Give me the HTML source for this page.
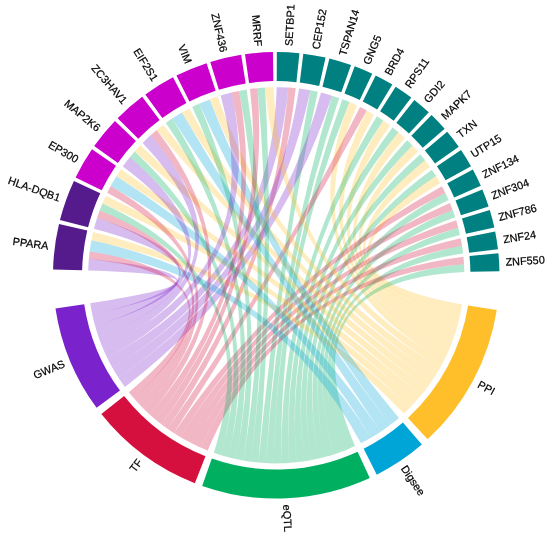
<!DOCTYPE html>
<html lang="en"><head><meta charset="utf-8"><title>Chord diagram</title>
<style>html,body{margin:0;padding:0;background:#fff;overflow:hidden}svg{display:block}.lab text{font-family:"Liberation Sans",Arial,Helvetica,sans-serif;font-size:10.9px;fill:#000;stroke:#000;stroke-width:0.2px}.links path{fill-opacity:0.3}</style></head><body>
<svg width="550" height="539" viewBox="0 0 550 539">
<rect width="550" height="539" fill="#fff"/>
<g class="links">
<path d="M288.18,87.58 Q271.69,272.44 112.45,367.78 A188.1,188.1 0 0 1 107.14,357.65 Q271.19,272.13 276.74,87.2 A188.1,188.1 0 0 1 288.18,87.58 Z" fill="#7A22CC"/>
<path d="M295.78,88.22 Q273.57,274.29 167.51,428.78 A188.1,188.1 0 0 1 161.38,424.25 Q273.16,274.14 288.18,87.58 A188.1,188.1 0 0 1 295.78,88.22 Z" fill="#D5103F"/>
<path d="M310.35,90.32 Q272.54,272.82 118.38,377.57 A188.1,188.1 0 0 1 112.45,367.78 Q272.02,272.47 299.04,88.59 A188.1,188.1 0 0 1 310.35,90.32 Z" fill="#7A22CC"/>
<path d="M317.82,91.85 Q277.19,275.43 266.03,463.12 A188.1,188.1 0 0 1 258.42,462.55 Q276.74,275.37 310.35,90.32 A188.1,188.1 0 0 1 317.82,91.85 Z" fill="#00B060"/>
<path d="M332.03,95.66 Q273.38,273.26 124.89,386.97 A188.1,188.1 0 0 1 118.38,377.57 Q272.86,272.89 321.01,92.6 A188.1,188.1 0 0 1 332.03,95.66 Z" fill="#7A22CC"/>
<path d="M339.27,98.07 Q278.06,275.63 273.65,463.38 A188.1,188.1 0 0 1 266.03,463.12 Q277.62,275.55 332.03,95.66 A188.1,188.1 0 0 1 339.27,98.07 Z" fill="#00B060"/>
<path d="M349.44,102.02 Q278.6,275.74 281.28,463.33 A188.1,188.1 0 0 1 273.65,463.38 Q278.16,275.66 342.35,99.2 A188.1,188.1 0 0 1 349.44,102.02 Z" fill="#00B060"/>
<path d="M357.09,105.46 Q283.82,272.53 447.69,352.69 A188.1,188.1 0 0 1 444.07,360.26 Q283.48,272.65 349.44,102.02 A188.1,188.1 0 0 1 357.09,105.46 Z" fill="#FEBF2A"/>
<path d="M366.8,110.43 Q275.89,275.09 173.82,433.06 A188.1,188.1 0 0 1 167.51,428.78 Q275.5,274.85 360.04,106.9 A188.1,188.1 0 0 1 366.8,110.43 Z" fill="#D5103F"/>
<path d="M374.06,114.63 Q284.43,272.57 450.97,344.97 A188.1,188.1 0 0 1 447.69,352.69 Q284.11,272.68 366.8,110.43 A188.1,188.1 0 0 1 374.06,114.63 Z" fill="#FEBF2A"/>
<path d="M383.21,120.57 Q279.84,276.29 288.9,462.97 A188.1,188.1 0 0 1 281.28,463.33 Q279.42,276.17 376.85,116.36 A188.1,188.1 0 0 1 383.21,120.57 Z" fill="#00B060"/>
<path d="M390.01,125.5 Q284.99,272.66 453.91,337.11 A188.1,188.1 0 0 1 450.97,344.97 Q284.7,272.75 383.21,120.57 A188.1,188.1 0 0 1 390.01,125.5 Z" fill="#FEBF2A"/>
<path d="M398.5,132.34 Q280.52,276.62 296.49,462.31 A188.1,188.1 0 0 1 288.9,462.97 Q280.12,276.5 392.6,127.5 A188.1,188.1 0 0 1 398.5,132.34 Z" fill="#00B060"/>
<path d="M404.75,137.94 Q285.51,272.79 456.48,329.12 A188.1,188.1 0 0 1 453.91,337.11 Q285.25,272.87 398.5,132.34 A188.1,188.1 0 0 1 404.75,137.94 Z" fill="#FEBF2A"/>
<path d="M412.5,145.62 Q281.17,276.99 304.06,461.33 A188.1,188.1 0 0 1 296.49,462.31 Q280.78,276.86 407.13,140.2 A188.1,188.1 0 0 1 412.5,145.62 Z" fill="#00B060"/>
<path d="M418.15,151.82 Q285.98,272.97 458.71,321.03 A188.1,188.1 0 0 1 456.48,329.12 Q285.74,273.02 412.5,145.62 A188.1,188.1 0 0 1 418.15,151.82 Z" fill="#FEBF2A"/>
<path d="M425.06,160.25 Q281.77,277.39 311.58,460.05 A188.1,188.1 0 0 1 304.06,461.33 Q281.41,277.25 420.28,154.32 A188.1,188.1 0 0 1 425.06,160.25 Z" fill="#00B060"/>
<path d="M430.05,167 Q286.39,273.18 460.56,312.85 A188.1,188.1 0 0 1 458.71,321.03 Q286.19,273.22 425.06,160.25 A188.1,188.1 0 0 1 430.05,167 Z" fill="#FEBF2A"/>
<path d="M436.07,176.1 Q282.33,277.82 319.04,458.47 A188.1,188.1 0 0 1 311.58,460.05 Q281.98,277.67 431.91,169.7 A188.1,188.1 0 0 1 436.07,176.1 Z" fill="#00B060"/>
<path d="M440.33,183.33 Q286.75,273.42 462.05,304.6 A188.1,188.1 0 0 1 460.56,312.85 Q286.57,273.45 436.07,176.1 A188.1,188.1 0 0 1 440.33,183.33 Z" fill="#FEBF2A"/>
<path d="M445.39,192.99 Q278.45,277.68 180.3,437.09 A188.1,188.1 0 0 1 173.82,433.06 Q278.15,277.36 441.91,186.2 A188.1,188.1 0 0 1 445.39,192.99 Z" fill="#D5103F"/>
<path d="M448.58,199.92 Q282.93,278.48 326.43,456.58 A188.1,188.1 0 0 1 319.04,458.47 Q282.61,278.33 445.39,192.99 A188.1,188.1 0 0 1 448.58,199.92 Z" fill="#00B060"/>
<path d="M452.66,210.03 Q278.86,278.31 186.94,440.84 A188.1,188.1 0 0 1 180.3,437.09 Q278.58,277.98 449.87,202.94 A188.1,188.1 0 0 1 452.66,210.03 Z" fill="#D5103F"/>
<path d="M455.16,217.24 Q283.34,278.93 333.74,454.4 A188.1,188.1 0 0 1 326.43,456.58 Q283.05,278.78 452.66,210.03 A188.1,188.1 0 0 1 455.16,217.24 Z" fill="#00B060"/>
<path d="M458.23,227.71 Q279.23,278.94 193.72,444.33 A188.1,188.1 0 0 1 186.94,440.84 Q278.97,278.62 456.15,220.37 A188.1,188.1 0 0 1 458.23,227.71 Z" fill="#D5103F"/>
<path d="M460.01,235.12 Q283.7,279.39 340.95,451.92 A188.1,188.1 0 0 1 333.74,454.4 Q283.43,279.25 458.23,227.71 A188.1,188.1 0 0 1 460.01,235.12 Z" fill="#00B060"/>
<path d="M462.03,245.84 Q279.56,279.58 200.64,447.53 A188.1,188.1 0 0 1 193.72,444.33 Q279.31,279.26 460.68,238.34 A188.1,188.1 0 0 1 462.03,245.84 Z" fill="#D5103F"/>
<path d="M463.07,253.4 Q284.01,279.86 348.06,449.15 A188.1,188.1 0 0 1 340.95,451.92 Q283.76,279.72 462.03,245.84 A188.1,188.1 0 0 1 463.07,253.4 Z" fill="#00B060"/>
<path d="M464.03,264.27 Q279.83,280.22 207.68,450.46 A188.1,188.1 0 0 1 200.64,447.53 Q279.6,279.91 463.42,256.66 A188.1,188.1 0 0 1 464.03,264.27 Z" fill="#D5103F"/>
<path d="M464.32,271.89 Q284.26,280.32 355.04,446.1 A188.1,188.1 0 0 1 348.06,449.15 Q284.04,280.18 464.03,264.27 A188.1,188.1 0 0 1 464.32,271.89 Z" fill="#00B060"/>
<path d="M88.85,259.08 Q265.11,275.99 92.28,314.49 A188.1,188.1 0 0 1 90.24,303.23 Q265.03,275.99 88.21,270.51 A188.1,188.1 0 0 1 88.85,259.08 Z" fill="#7A22CC"/>
<path d="M89.66,251.5 Q266.38,278.27 133.74,398.07 A188.1,188.1 0 0 1 128.88,392.19 Q266.21,278.32 88.85,259.08 A188.1,188.1 0 0 1 89.66,251.5 Z" fill="#D5103F"/>
<path d="M91.45,240.2 Q273.55,279.12 371.01,437.79 A188.1,188.1 0 0 1 360.96,443.25 Q273.19,279.62 89.66,251.5 A188.1,188.1 0 0 1 91.45,240.2 Z" fill="#00A5D8"/>
<path d="M93.2,232 Q274.77,277.97 409.86,407.7 A188.1,188.1 0 0 1 403.82,413.53 Q274.53,278.39 91.45,240.2 A188.1,188.1 0 0 1 93.2,232 Z" fill="#FEBF2A"/>
<path d="M97.15,217.82 Q265.44,275.08 95,325.6 A188.1,188.1 0 0 1 92.28,314.49 Q265.26,275.08 93.99,228.81 A188.1,188.1 0 0 1 97.15,217.82 Z" fill="#7A22CC"/>
<path d="M99.63,210.6 Q266.83,277.21 138.83,403.74 A188.1,188.1 0 0 1 133.74,398.07 Q266.6,277.26 97.15,217.82 A188.1,188.1 0 0 1 99.63,210.6 Z" fill="#D5103F"/>
<path d="M102.39,203.5 Q269.38,278.54 221.08,455.13 A188.1,188.1 0 0 1 213.84,452.74 Q269.08,278.68 99.63,210.6 A188.1,188.1 0 0 1 102.39,203.5 Z" fill="#00B060"/>
<path d="M105.77,195.82 Q275.32,276.7 415.63,401.61 A188.1,188.1 0 0 1 409.86,407.7 Q275.04,277.12 102.39,203.5 A188.1,188.1 0 0 1 105.77,195.82 Z" fill="#FEBF2A"/>
<path d="M110.66,186.07 Q267.32,276.64 144.15,409.21 A188.1,188.1 0 0 1 138.83,403.74 Q267.06,276.68 107.18,192.85 A188.1,188.1 0 0 1 110.66,186.07 Z" fill="#D5103F"/>
<path d="M116.39,176.17 Q274.59,277.02 380.71,431.73 A188.1,188.1 0 0 1 371.01,437.79 Q274.13,277.5 110.66,186.07 A188.1,188.1 0 0 1 116.39,176.17 Z" fill="#00A5D8"/>
<path d="M120.97,169.14 Q275.94,275.71 421.12,395.27 A188.1,188.1 0 0 1 415.63,401.61 Q275.64,276.12 116.39,176.17 A188.1,188.1 0 0 1 120.97,169.14 Z" fill="#FEBF2A"/>
<path d="M129.75,157.32 Q266.52,273.6 98.39,336.52 A188.1,188.1 0 0 1 95,325.6 Q266.21,273.54 122.85,166.44 A188.1,188.1 0 0 1 129.75,157.32 Z" fill="#7A22CC"/>
<path d="M134.65,151.48 Q270.57,277.04 228.42,457.22 A188.1,188.1 0 0 1 221.08,455.13 Q270.2,277.16 129.75,157.32 A188.1,188.1 0 0 1 134.65,151.48 Z" fill="#00B060"/>
<path d="M140.32,145.29 Q276.67,274.8 426.33,388.69 A188.1,188.1 0 0 1 421.12,395.27 Q276.35,275.18 134.65,151.48 A188.1,188.1 0 0 1 140.32,145.29 Z" fill="#FEBF2A"/>
<path d="M150.9,135.06 Q267.28,273.25 102.44,347.22 A188.1,188.1 0 0 1 98.39,336.52 Q266.9,273.17 142.61,142.93 A188.1,188.1 0 0 1 150.9,135.06 Z" fill="#7A22CC"/>
<path d="M156.69,130.09 Q268.87,275.12 149.69,414.45 A188.1,188.1 0 0 1 144.15,409.21 Q268.53,275.11 150.9,135.06 A188.1,188.1 0 0 1 156.69,130.09 Z" fill="#D5103F"/>
<path d="M163.28,124.9 Q277.51,273.99 431.24,381.89 A188.1,188.1 0 0 1 426.33,388.69 Q277.17,274.35 156.69,130.09 A188.1,188.1 0 0 1 163.28,124.9 Z" fill="#FEBF2A"/>
<path d="M172.19,118.61 Q271.92,276.11 235.83,459.01 A188.1,188.1 0 0 1 228.42,457.22 Q271.51,276.19 165.92,122.95 A188.1,188.1 0 0 1 172.19,118.61 Z" fill="#00B060"/>
<path d="M181.91,112.57 Q276.83,274.91 390.03,425.09 A188.1,188.1 0 0 1 380.71,431.73 Q276.26,275.29 172.19,118.61 A188.1,188.1 0 0 1 181.91,112.57 Z" fill="#00A5D8"/>
<path d="M189.26,108.53 Q278.43,273.28 435.84,374.87 A188.1,188.1 0 0 1 431.24,381.89 Q278.07,273.62 181.91,112.57 A188.1,188.1 0 0 1 189.26,108.53 Z" fill="#FEBF2A"/>
<path d="M199.07,103.76 Q272.95,275.71 243.31,460.49 A188.1,188.1 0 0 1 235.83,459.01 Q272.52,275.76 192.18,107.03 A188.1,188.1 0 0 1 199.07,103.76 Z" fill="#00B060"/>
<path d="M209.64,99.39 Q277.93,274.3 398.92,417.89 A188.1,188.1 0 0 1 390.03,425.09 Q277.35,274.65 199.07,103.76 A188.1,188.1 0 0 1 209.64,99.39 Z" fill="#00A5D8"/>
<path d="M217.55,96.59 Q279.4,272.71 440.12,367.66 A188.1,188.1 0 0 1 435.84,374.87 Q279.04,273.01 209.64,99.39 A188.1,188.1 0 0 1 217.55,96.59 Z" fill="#FEBF2A"/>
<path d="M231.7,92.55 Q269.84,272.29 107.14,357.65 A188.1,188.1 0 0 1 102.44,347.22 Q269.37,272.07 220.68,95.6 A188.1,188.1 0 0 1 231.7,92.55 Z" fill="#7A22CC"/>
<path d="M239.15,90.9 Q271.51,274.09 155.43,419.47 A188.1,188.1 0 0 1 149.69,414.45 Q271.12,273.99 231.7,92.55 A188.1,188.1 0 0 1 239.15,90.9 Z" fill="#D5103F"/>
<path d="M246.66,89.54 Q274.6,275.32 250.85,461.68 A188.1,188.1 0 0 1 243.31,460.49 Q274.15,275.32 239.15,90.9 A188.1,188.1 0 0 1 246.66,89.54 Z" fill="#00B060"/>
<path d="M257.47,88.14 Q272.24,274.15 161.38,424.25 A188.1,188.1 0 0 1 155.43,419.47 Q271.83,274.04 249.9,89.05 A188.1,188.1 0 0 1 257.47,88.14 Z" fill="#D5103F"/>
<path d="M265.08,87.53 Q275.38,275.28 258.42,462.55 A188.1,188.1 0 0 1 250.85,461.68 Q274.92,275.28 257.47,88.14 A188.1,188.1 0 0 1 265.08,87.53 Z" fill="#00B060"/>
<path d="M273.46,87.22 Q281.2,272.21 444.07,360.26 A188.1,188.1 0 0 1 440.12,367.66 Q280.83,272.44 265.08,87.53 A188.1,188.1 0 0 1 273.46,87.22 Z" fill="#FEBF2A"/>
</g>
<g class="grid">
<path d="M276.83,52.05 A223.25,223.25 0 0 1 299.42,53.26 L296.41,82.15 A194.2,194.2 0 0 0 276.76,81.1 Z" fill="#008080"/>
<path d="M303.3,53.69 A223.25,223.25 0 0 1 325.58,57.57 L319.16,85.9 A194.2,194.2 0 0 0 299.78,82.53 Z" fill="#008080"/>
<path d="M329.38,58.46 A223.25,223.25 0 0 1 351.05,64.95 L341.31,92.32 A194.2,194.2 0 0 0 322.46,86.68 Z" fill="#008080"/>
<path d="M354.71,66.29 A223.25,223.25 0 0 1 372.2,73.72 L359.71,99.95 A194.2,194.2 0 0 0 344.5,93.49 Z" fill="#008080"/>
<path d="M375.7,75.43 A223.25,223.25 0 0 1 392.34,84.61 L377.24,109.42 A194.2,194.2 0 0 0 362.76,101.43 Z" fill="#008080"/>
<path d="M395.65,86.66 A223.25,223.25 0 0 1 411.26,97.5 L393.69,120.64 A194.2,194.2 0 0 0 380.11,111.21 Z" fill="#008080"/>
<path d="M414.35,99.89 A223.25,223.25 0 0 1 428.76,112.27 L408.92,133.48 A194.2,194.2 0 0 0 396.38,122.71 Z" fill="#008080"/>
<path d="M431.59,114.95 A223.25,223.25 0 0 1 444.66,128.75 L422.75,147.82 A194.2,194.2 0 0 0 411.37,135.82 Z" fill="#008080"/>
<path d="M447.19,131.71 A223.25,223.25 0 0 1 458.79,146.77 L435.03,163.49 A194.2,194.2 0 0 0 424.95,150.39 Z" fill="#008080"/>
<path d="M461,149.97 A223.25,223.25 0 0 1 470.99,166.14 L445.65,180.34 A194.2,194.2 0 0 0 436.96,166.28 Z" fill="#008080"/>
<path d="M472.87,169.55 A223.25,223.25 0 0 1 480.79,185.83 L454.17,197.47 A194.2,194.2 0 0 0 447.28,183.31 Z" fill="#008080"/>
<path d="M482.32,189.41 A223.25,223.25 0 0 1 488.6,206.39 L460.97,215.36 A194.2,194.2 0 0 0 455.5,200.59 Z" fill="#008080"/>
<path d="M489.77,210.11 A223.25,223.25 0 0 1 494.35,227.62 L465.97,233.82 A194.2,194.2 0 0 0 461.98,218.59 Z" fill="#008080"/>
<path d="M495.15,231.43 A223.25,223.25 0 0 1 497.98,249.31 L469.13,252.69 A194.2,194.2 0 0 0 466.66,237.14 Z" fill="#008080"/>
<path d="M498.4,253.18 A223.25,223.25 0 0 1 499.46,271.25 L470.42,271.78 A194.2,194.2 0 0 0 469.49,256.06 Z" fill="#008080"/>
<path d="M496.78,310.07 A223.25,223.25 0 0 1 427.66,439.36 L407.96,418.01 A194.2,194.2 0 0 0 468.08,305.55 Z" fill="#FEBF2A"/>
<path d="M421.85,444.54 A223.25,223.25 0 0 1 376.79,474.63 L363.7,448.69 A194.2,194.2 0 0 0 402.9,422.52 Z" fill="#00A5D8"/>
<path d="M369.77,478.02 A223.25,223.25 0 0 1 202.18,485.9 L211.82,458.5 A194.2,194.2 0 0 0 357.6,451.64 Z" fill="#00B060"/>
<path d="M194.87,483.19 A223.25,223.25 0 0 1 101.34,414.03 L124.1,395.98 A194.2,194.2 0 0 0 205.46,456.14 Z" fill="#D5103F"/>
<path d="M96.6,407.84 A223.25,223.25 0 0 1 55.47,308.45 L84.2,304.14 A194.2,194.2 0 0 0 119.98,390.59 Z" fill="#7A22CC"/>
<path d="M53.07,269.61 A223.25,223.25 0 0 1 59,223.91 L87.27,230.59 A194.2,194.2 0 0 0 82.11,270.35 Z" fill="#551A8B"/>
<path d="M59.93,220.12 A223.25,223.25 0 0 1 73.91,180.96 L100.24,193.24 A194.2,194.2 0 0 0 88.08,227.3 Z" fill="#551A8B"/>
<path d="M75.59,177.45 A223.25,223.25 0 0 1 91.96,149.3 L115.94,165.69 A194.2,194.2 0 0 0 101.7,190.18 Z" fill="#CC00CC"/>
<path d="M94.18,146.1 A223.25,223.25 0 0 1 114.91,120.99 L135.91,141.07 A194.2,194.2 0 0 0 117.87,162.91 Z" fill="#CC00CC"/>
<path d="M117.63,118.2 A223.25,223.25 0 0 1 142.17,96.8 L159.62,120.02 A194.2,194.2 0 0 0 138.27,138.64 Z" fill="#CC00CC"/>
<path d="M145.31,94.48 A223.25,223.25 0 0 1 173,77.36 L186.43,103.12 A194.2,194.2 0 0 0 162.34,118.01 Z" fill="#CC00CC"/>
<path d="M176.47,75.59 A223.25,223.25 0 0 1 206.58,63.2 L215.65,90.8 A194.2,194.2 0 0 0 189.45,101.58 Z" fill="#CC00CC"/>
<path d="M210.29,62.02 A223.25,223.25 0 0 1 241.12,54.83 L245.7,83.52 A194.2,194.2 0 0 0 218.88,89.77 Z" fill="#CC00CC"/>
<path d="M244.98,54.25 A223.25,223.25 0 0 1 272.94,52.07 L273.37,81.12 A194.2,194.2 0 0 0 249.05,83.01 Z" fill="#CC00CC"/>
</g>
<g class="lab">
<text x="288.48" y="46.03" text-anchor="start" dominant-baseline="central" transform="rotate(-86.95 288.48 46.03)">SETBP1</text>
<text x="315.58" y="49.09" text-anchor="start" dominant-baseline="central" transform="rotate(-80.14 315.58 49.09)">CEP152</text>
<text x="342.12" y="55.35" text-anchor="start" dominant-baseline="central" transform="rotate(-73.33 342.12 55.35)">TSPAN14</text>
<text x="366.01" y="63.97" text-anchor="start" dominant-baseline="central" transform="rotate(-66.99 366.01 63.97)">GNG5</text>
<text x="387.19" y="74.28" text-anchor="start" dominant-baseline="central" transform="rotate(-61.11 387.19 74.28)">BRD4</text>
<text x="407.19" y="86.7" text-anchor="start" dominant-baseline="central" transform="rotate(-55.23 407.19 86.7)">RPS11</text>
<text x="425.82" y="101.1" text-anchor="start" dominant-baseline="central" transform="rotate(-49.35 425.82 101.1)">GDI2</text>
<text x="442.88" y="117.34" text-anchor="start" dominant-baseline="central" transform="rotate(-43.47 442.88 117.34)">MAPK7</text>
<text x="458.18" y="135.24" text-anchor="start" dominant-baseline="central" transform="rotate(-37.59 458.18 135.24)">TXN</text>
<text x="471.57" y="154.61" text-anchor="start" dominant-baseline="central" transform="rotate(-31.71 471.57 154.61)">UTP15</text>
<text x="482.7" y="174.83" text-anchor="start" dominant-baseline="central" transform="rotate(-25.95 482.7 174.83)">ZNF134</text>
<text x="491.59" y="195.63" text-anchor="start" dominant-baseline="central" transform="rotate(-20.3 491.59 195.63)">ZNF304</text>
<text x="498.38" y="217.21" text-anchor="start" dominant-baseline="central" transform="rotate(-14.66 498.38 217.21)">ZNF786</text>
<text x="503.02" y="239.35" text-anchor="start" dominant-baseline="central" transform="rotate(-9.01 503.02 239.35)">ZNF24</text>
<text x="505.45" y="261.83" text-anchor="start" dominant-baseline="central" transform="rotate(-3.36 505.45 261.83)">ZNF550</text>
<text x="478.73" y="383.54" text-anchor="start" dominant-baseline="central" transform="rotate(28.13 478.73 383.54)">PPI</text>
<text x="403.76" y="466.24" text-anchor="start" dominant-baseline="central" transform="rotate(56.27 403.76 466.24)">Digsee</text>
<text x="287.04" y="504.65" text-anchor="start" dominant-baseline="central" transform="rotate(87.31 287.04 504.65)">eQTL</text>
<text x="139.75" y="459.91" text-anchor="end" dominant-baseline="central" transform="rotate(-53.52 139.75 459.91)">TF</text>
<text x="64.1" y="363.09" text-anchor="end" dominant-baseline="central" transform="rotate(-22.48 64.1 363.09)">GWAS</text>
<text x="48.55" y="245.79" text-anchor="end" dominant-baseline="central" transform="rotate(7.38 48.55 245.79)">PPARA</text>
<text x="60.02" y="198.08" text-anchor="end" dominant-baseline="central" transform="rotate(19.65 60.02 198.08)">HLA-DQB1</text>
<text x="77.77" y="159.88" text-anchor="end" dominant-baseline="central" transform="rotate(30.18 77.77 159.88)">EP300</text>
<text x="99.19" y="129.13" text-anchor="end" dominant-baseline="central" transform="rotate(39.54 99.19 129.13)">MAP2K6</text>
<text x="125.34" y="102.27" text-anchor="end" dominant-baseline="central" transform="rotate(48.91 125.34 102.27)">ZC3HAV1</text>
<text x="155.5" y="80.02" text-anchor="end" dominant-baseline="central" transform="rotate(58.27 155.5 80.02)">EIF2S1</text>
<text x="188.88" y="62.97" text-anchor="end" dominant-baseline="central" transform="rotate(67.63 188.88 62.97)">VIM</text>
<text x="224.14" y="51.69" text-anchor="end" dominant-baseline="central" transform="rotate(76.88 224.14 51.69)">ZNF436</text>
<text x="258.43" y="46.39" text-anchor="end" dominant-baseline="central" transform="rotate(85.55 258.43 46.39)">MRRF</text>
</g>
</svg></body></html>
